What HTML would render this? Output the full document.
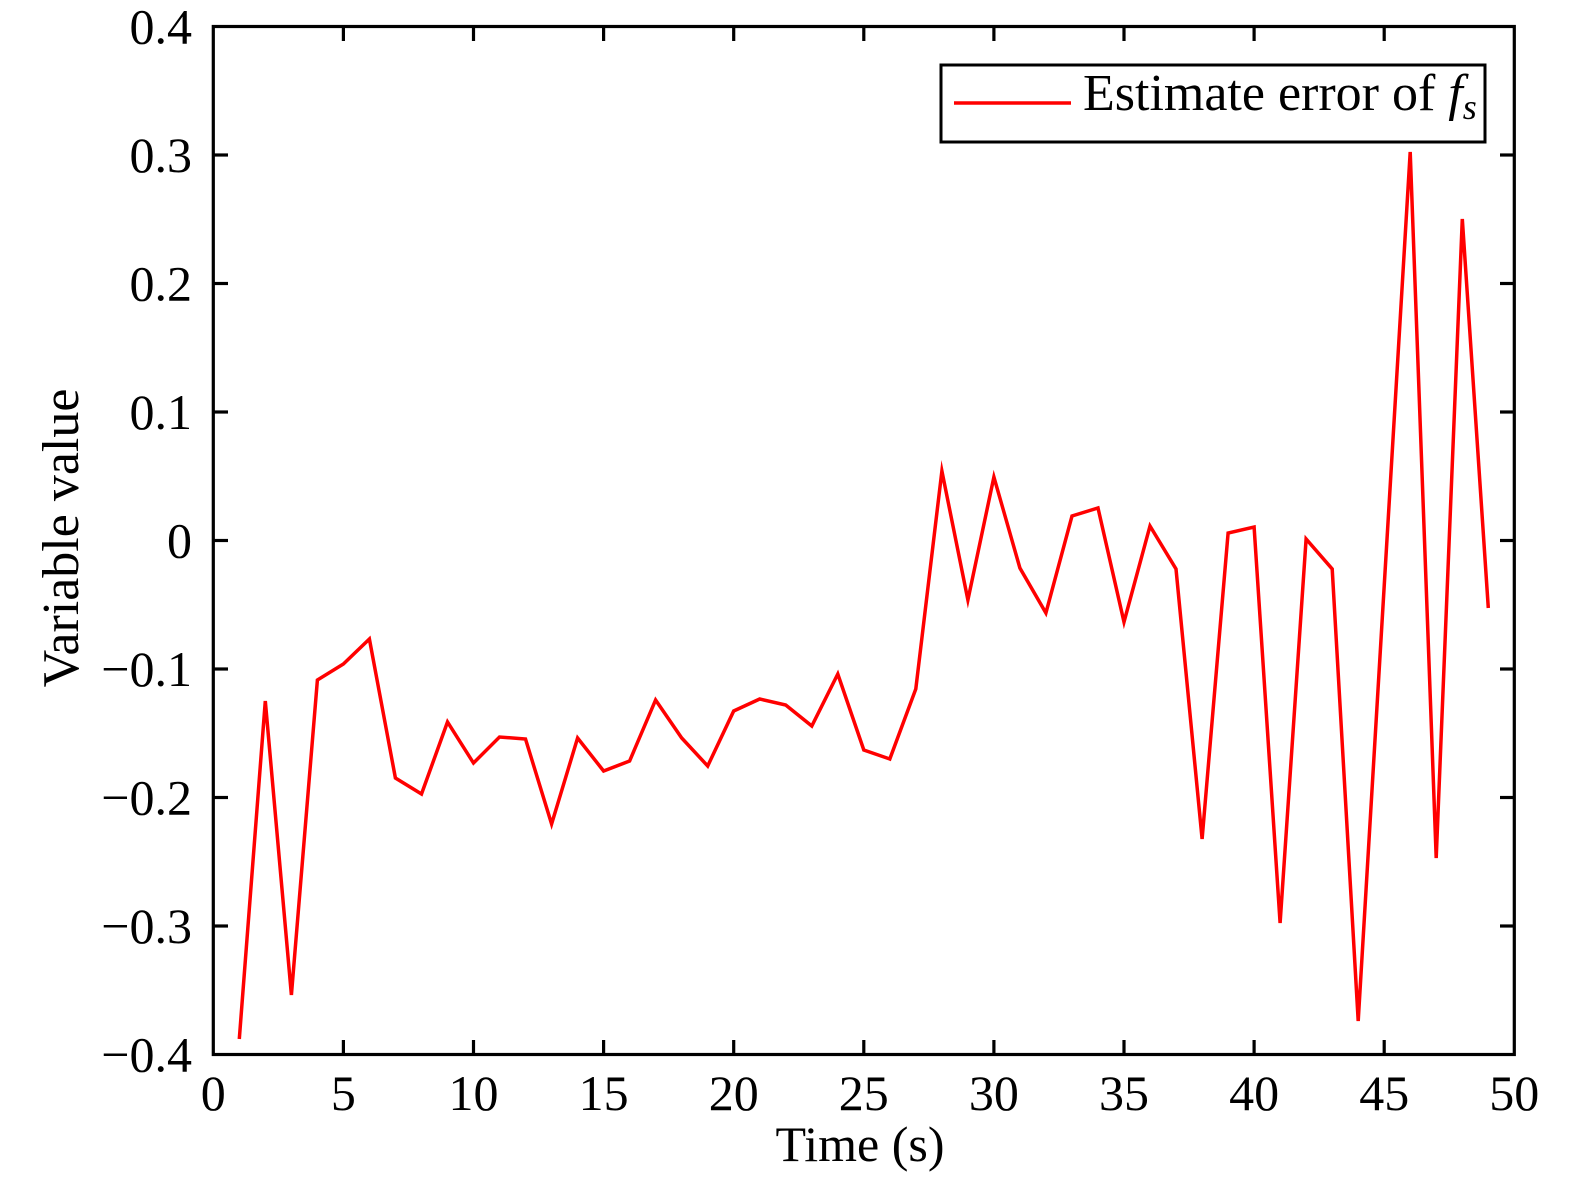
<!DOCTYPE html>
<html>
<head>
<meta charset="utf-8">
<style>
html,body{margin:0;padding:0;background:#fff;}
svg{display:block;}
text{font-family:"Liberation Serif","Times New Roman",serif;fill:#000;}
</style>
</head>
<body>
<svg width="1575" height="1183" viewBox="0 0 1575 1183" xmlns="http://www.w3.org/2000/svg">
<rect x="0" y="0" width="1575" height="1183" fill="#fff"/>

<!-- data line -->
<polyline fill="none" stroke="#ff0000" stroke-width="3.5" stroke-linejoin="miter" stroke-miterlimit="10"
points="239.3,1039 265.3,701 291.4,995 317.4,680 343.4,664 369.4,639 395.4,778 421.5,794 447.5,722 473.5,763 499.5,737 525.5,739 551.6,824 577.6,738 603.6,771 629.6,761 655.6,700 681.7,738 707.7,766 733.7,711 759.7,699 785.7,705 811.8,726 837.8,674 863.8,750 889.8,759 915.8,689 941.9,471 967.9,600 993.9,477 1019.9,568 1045.9,613 1072.0,516 1098.0,508 1124.0,622 1150.0,526 1176.0,569 1202.1,839 1228.1,533 1254.1,527 1280.1,923 1306.1,539 1332.2,569 1358.2,1021 1384.2,586 1410.2,152 1436.2,858 1462.3,219 1488.3,608"/>

<!-- axes box -->
<rect x="213.3" y="26.5" width="1301" height="1028" fill="none" stroke="#000" stroke-width="3.2"/>

<!-- ticks -->
<g stroke="#000" stroke-width="3.2">
  <line x1="343.4" y1="1054.5" x2="343.4" y2="1040"/>
  <line x1="473.5" y1="1054.5" x2="473.5" y2="1040"/>
  <line x1="603.6" y1="1054.5" x2="603.6" y2="1040"/>
  <line x1="733.7" y1="1054.5" x2="733.7" y2="1040"/>
  <line x1="863.8" y1="1054.5" x2="863.8" y2="1040"/>
  <line x1="993.9" y1="1054.5" x2="993.9" y2="1040"/>
  <line x1="1124.0" y1="1054.5" x2="1124.0" y2="1040"/>
  <line x1="1254.1" y1="1054.5" x2="1254.1" y2="1040"/>
  <line x1="1384.2" y1="1054.5" x2="1384.2" y2="1040"/>
  <line x1="343.4" y1="26.5" x2="343.4" y2="41"/>
  <line x1="473.5" y1="26.5" x2="473.5" y2="41"/>
  <line x1="603.6" y1="26.5" x2="603.6" y2="41"/>
  <line x1="733.7" y1="26.5" x2="733.7" y2="41"/>
  <line x1="863.8" y1="26.5" x2="863.8" y2="41"/>
  <line x1="993.9" y1="26.5" x2="993.9" y2="41"/>
  <line x1="1124.0" y1="26.5" x2="1124.0" y2="41"/>
  <line x1="1254.1" y1="26.5" x2="1254.1" y2="41"/>
  <line x1="1384.2" y1="26.5" x2="1384.2" y2="41"/>
  <line x1="213.3" y1="155" x2="228" y2="155"/>
  <line x1="213.3" y1="283.5" x2="228" y2="283.5"/>
  <line x1="213.3" y1="412" x2="228" y2="412"/>
  <line x1="213.3" y1="540.5" x2="228" y2="540.5"/>
  <line x1="213.3" y1="669" x2="228" y2="669"/>
  <line x1="213.3" y1="797.5" x2="228" y2="797.5"/>
  <line x1="213.3" y1="926" x2="228" y2="926"/>
  <line x1="1514.3" y1="155" x2="1500" y2="155"/>
  <line x1="1514.3" y1="283.5" x2="1500" y2="283.5"/>
  <line x1="1514.3" y1="412" x2="1500" y2="412"/>
  <line x1="1514.3" y1="540.5" x2="1500" y2="540.5"/>
  <line x1="1514.3" y1="669" x2="1500" y2="669"/>
  <line x1="1514.3" y1="797.5" x2="1500" y2="797.5"/>
  <line x1="1514.3" y1="926" x2="1500" y2="926"/>
</g>

<!-- y tick labels -->
<g font-size="50" text-anchor="end">
  <text x="192" y="43.5">0.4</text>
  <text x="192" y="172">0.3</text>
  <text x="192" y="300.5">0.2</text>
  <text x="192" y="429">0.1</text>
  <text x="192" y="557.5">0</text>
  <text x="192" y="686">−0.1</text>
  <text x="192" y="814.5">−0.2</text>
  <text x="192" y="943">−0.3</text>
  <text x="192" y="1071.5">−0.4</text>
</g>

<!-- x tick labels -->
<g font-size="50" text-anchor="middle">
  <text x="213.3" y="1110">0</text>
  <text x="343.4" y="1110">5</text>
  <text x="473.5" y="1110">10</text>
  <text x="603.6" y="1110">15</text>
  <text x="733.7" y="1110">20</text>
  <text x="863.8" y="1110">25</text>
  <text x="993.9" y="1110">30</text>
  <text x="1124.0" y="1110">35</text>
  <text x="1254.1" y="1110">40</text>
  <text x="1384.2" y="1110">45</text>
  <text x="1514.3" y="1110">50</text>
</g>

<!-- axis titles -->
<text x="860" y="1161" font-size="50" text-anchor="middle">Time (s)</text>
<text transform="translate(78,538) rotate(-90)" font-size="52" text-anchor="middle">Variable value</text>

<!-- legend -->
<rect x="941" y="65" width="544" height="77" fill="#fff" stroke="#000" stroke-width="3"/>
<line x1="954" y1="103" x2="1071" y2="103" stroke="#ff0000" stroke-width="3.5"/>
<text x="1083" y="110" font-size="52">Estimate error of <tspan font-style="italic">f</tspan><tspan font-style="italic" font-size="36" dy="9">s</tspan></text>

</svg>
</body>
</html>
